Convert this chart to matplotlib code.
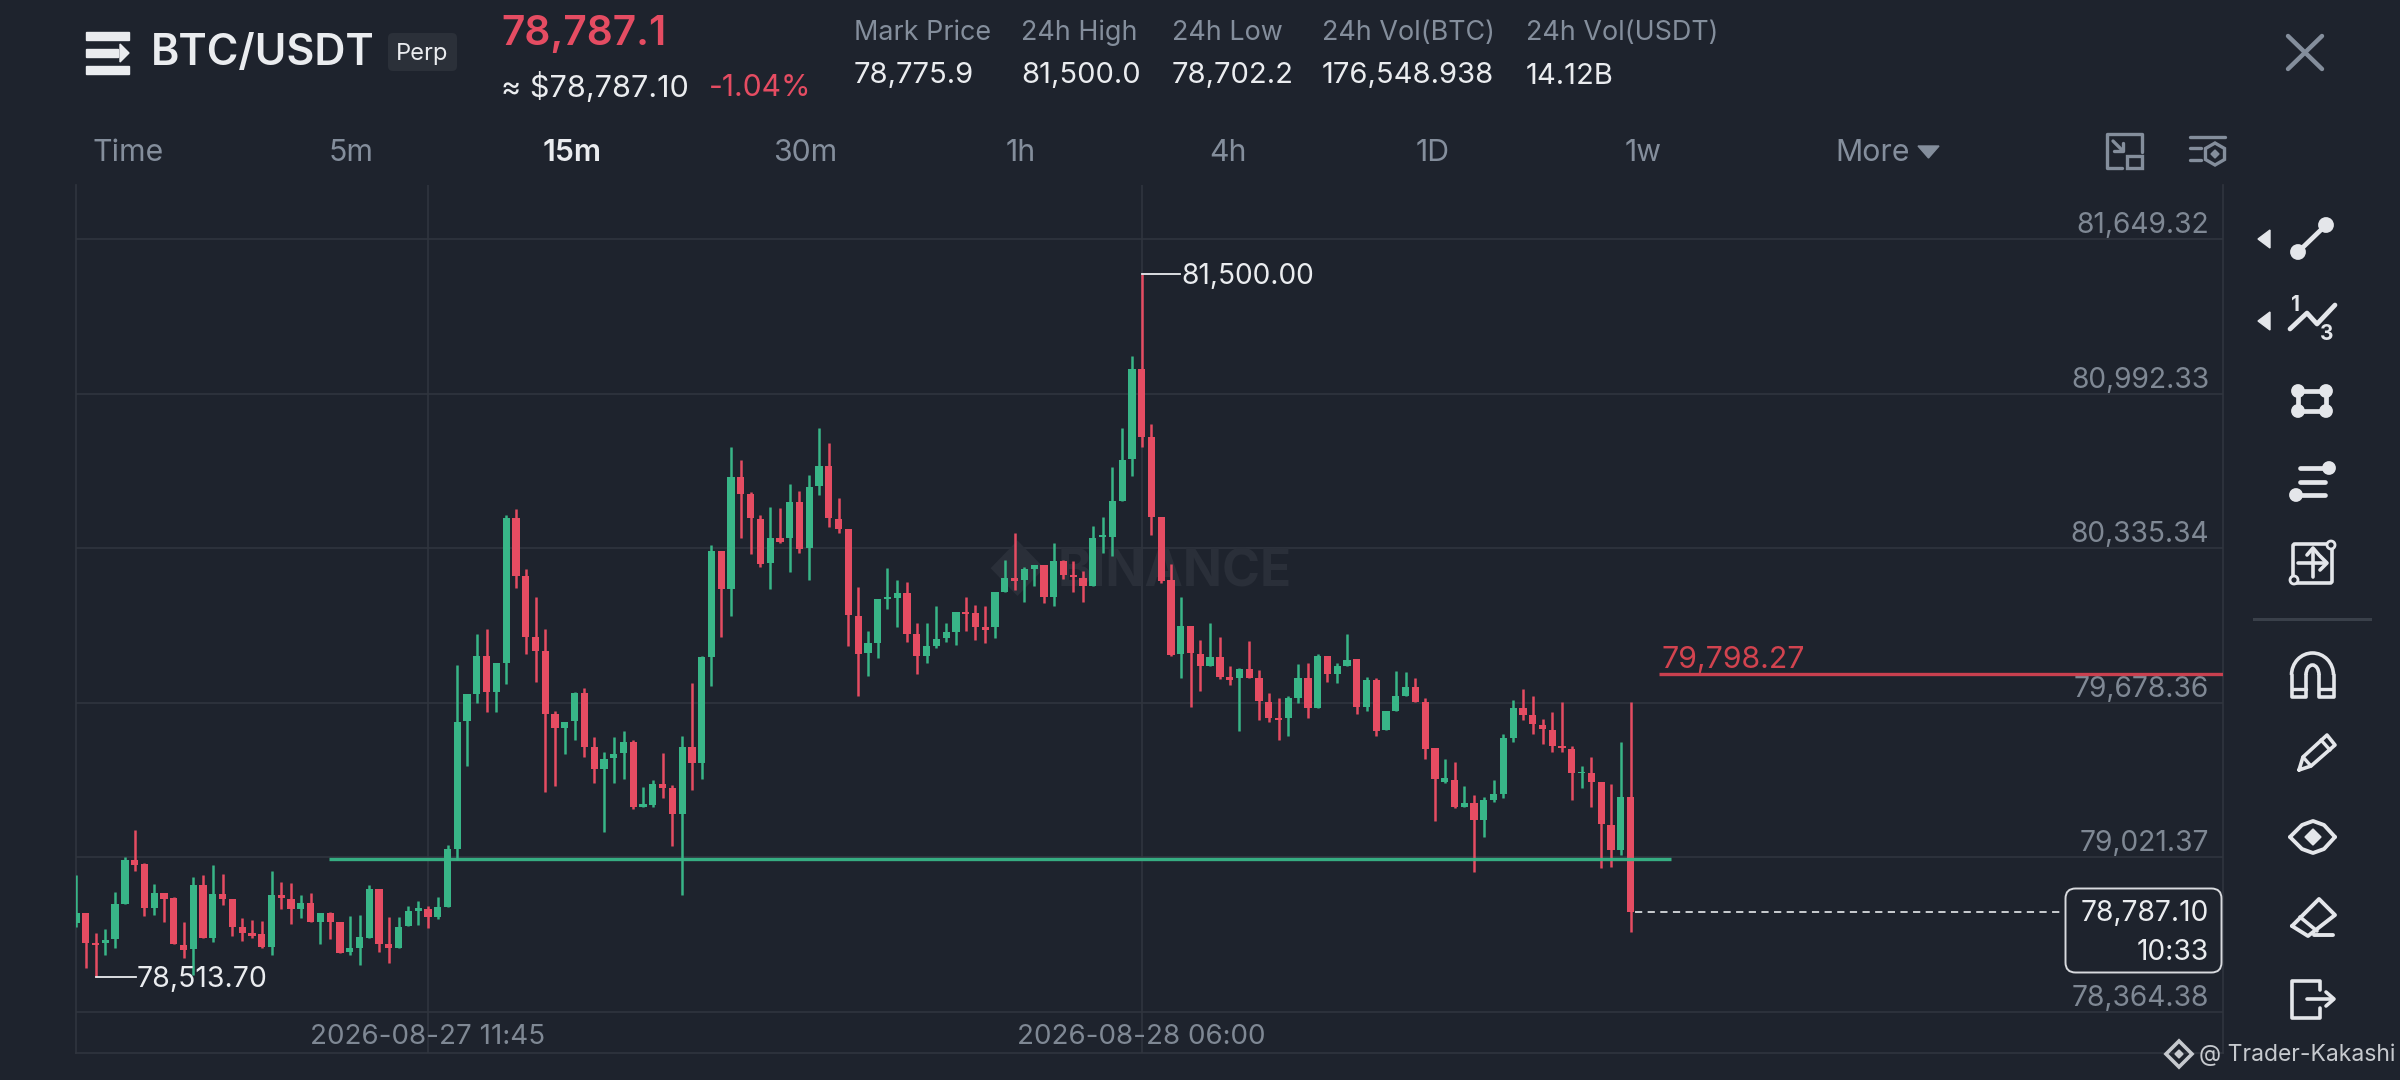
import matplotlib
matplotlib.use('Agg')
import matplotlib.pyplot as plt
import numpy as np
from matplotlib.patches import Arc, Circle, FancyBboxPatch, Polygon, Rectangle, RegularPolygon

plt.rcParams['font.family'] = ['Inter', 'DejaVu Sans']

# ~~> 15m candles
opens = [78743, 78783, 78658, 78655, 78672, 78823, 79010, 78993, 78804, 78871,
         78847, 78648, 78630, 78902, 78677, 78864, 78842, 78723, 78698, 78695,
         78641, 78861, 78844, 78801, 78825, 78745, 78783, 78747, 78617, 78637,
         78677, 78888, 78651, 78634, 78729, 78794, 78800, 78769, 78811, 79055,
         79601, 79714, 79877, 79722, 79848, 80462, 80218, 79956, 79898, 79630,
         79572, 79601, 79721, 79489, 79396, 79442, 79463, 79513, 79236, 79243,
         79331, 79317, 79205, 79491, 79420, 79871, 80323, 80162, 80636, 80564,
         80459, 80273, 80377, 80377, 80530, 80337, 80599, 80686, 80459, 80415,
         80048, 79888, 79933, 80119, 80122, 80143, 79969, 79878, 79921, 79952,
         79980, 80065, 80058, 79999, 79999, 80150, 80207, 80200, 80245, 80264,
         80129, 80282, 80221, 80207, 80176, 80381, 80384, 80537, 80713, 81096,
         80809, 80467, 80200, 79884, 80005, 79886, 79836, 79871, 79786, 79785,
         79820, 79785, 79683, 79615, 79615, 79700, 79785, 79657, 79877, 79801,
         79835, 79863, 79662, 79775, 79561, 79645, 79708, 79747, 79683, 79484,
         79343, 79350, 79236, 79253, 79180, 79265, 79290, 79530, 79657, 79626,
         79584, 79562, 79494, 79482, 79378, 79381, 79343, 79159, 79052, 79279]
highs = [78946, 78783, 78701, 78715, 78875, 79024, 79137, 78998, 78908, 78871,
         78854, 78745, 78936, 78946, 78988, 78950, 78842, 78764, 78755, 78752,
         78964, 78918, 78913, 78861, 78871, 78786, 78790, 78747, 78772, 78776,
         78902, 78888, 78769, 78769, 78815, 78837, 78815, 78851, 79073, 79839,
         79714, 79969, 79992, 79846, 80476, 80500, 80245, 80129, 79990, 79643,
         79598, 79725, 79739, 79531, 79470, 79531, 79558, 79520, 79321, 79350,
         79463, 79328, 79538, 79761, 79877, 80349, 80325, 80767, 80710, 80575,
         80476, 80512, 80504, 80608, 80580, 80646, 80845, 80784, 80550, 80415,
         80171, 79983, 80119, 80249, 80200, 80193, 80018, 80016, 80089, 80016,
         80065, 80129, 80094, 80091, 80150, 80285, 80398, 80256, 80264, 80264,
         80359, 80285, 80282, 80238, 80429, 80469, 80679, 80845, 81150, 81500,
         80862, 80469, 80267, 80129, 80005, 79945, 80016, 79959, 79836, 79827,
         79942, 79818, 79718, 79697, 79707, 79842, 79846, 79886, 79877, 79846,
         79971, 79863, 79789, 79782, 79645, 79815, 79808, 79782, 79697, 79484,
         79438, 79425, 79326, 79286, 79276, 79350, 79544, 79690, 79735, 79707,
         79609, 79637, 79683, 79496, 79411, 79446, 79343, 79331, 79510, 79683]
lows = [78726, 78552, 78513.7, 78606, 78634, 78823, 78963, 78773, 78776, 78747,
        78651, 78592, 78521, 78677, 78662, 78818, 78688, 78665, 78677, 78634,
        78606, 78800, 78738, 78764, 78745, 78653, 78672, 78613, 78606, 78563,
        78677, 78620, 78573, 78634, 78729, 78733, 78719, 78757, 78811, 79010,
        79409, 79676, 79640, 79640, 79758, 80164, 79884, 79768, 79300, 79324,
        79460, 79520, 79449, 79336, 79130, 79338, 79352, 79225, 79233, 79236,
        79272, 79069, 78861, 79307, 79352, 79751, 79959, 80047, 80380, 80309,
        80256, 80162, 80356, 80232, 80316, 80200, 80561, 80424, 80398, 79919,
        79707, 79792, 79867, 80075, 79999, 79938, 79799, 79846, 79912, 79938,
        79924, 79984, 79945, 79933, 79952, 80150, 80157, 80108, 80174, 80103,
        80089, 80204, 80150, 80108, 80176, 80313, 80303, 80537, 80642, 80767,
        80389, 80189, 79877, 79785, 79659, 79730, 79836, 79778, 79754, 79558,
        79785, 79605, 79598, 79520, 79538, 79676, 79612, 79657, 79768, 79764,
        79835, 79631, 79643, 79538, 79561, 79645, 79708, 79683, 79439, 79177,
        79336, 79229, 79236, 78960, 79109, 79255, 79275, 79510, 79605, 79544,
        79503, 79467, 79470, 79265, 79314, 79236, 78974, 78981, 79031, 78702]
closes = [78783, 78658, 78647, 78670, 78821, 79010, 78988, 78804, 78871, 78842,
          78651, 78627, 78902, 78677, 78864, 78844, 78726, 78701, 78688, 78638,
          78861, 78847, 78801, 78828, 78745, 78783, 78747, 78616, 78637, 78681,
          78888, 78653, 78634, 78726, 78794, 78804, 78769, 78808, 79055, 79598,
          79714, 79877, 79722, 79846, 80462, 80218, 79959, 79899, 79630, 79572,
          79598, 79721, 79491, 79396, 79438, 79459, 79513, 79233, 79248, 79333,
          79317, 79205, 79491, 79420, 79871, 80325, 80160, 80636, 80564, 80462,
          80268, 80377, 80363, 80530, 80332, 80597, 80686, 80462, 80415, 80051,
          79885, 79931, 80119, 80129, 80143, 79970, 79878, 79921, 79949, 79977,
          80065, 80055, 80001, 79987, 80150, 80207, 80197, 80247, 80264, 80129,
          80279, 80221, 80211, 80176, 80377, 80391, 80536, 80710, 81096, 80809,
          80469, 80197, 79881, 80005, 79888, 79836, 79871, 79786, 79775, 79820,
          79785, 79686, 79615, 79605, 79700, 79785, 79655, 79877, 79801, 79835,
          79860, 79662, 79775, 79558, 79645, 79708, 79747, 79683, 79482, 79353,
          79360, 79234, 79251, 79180, 79265, 79290, 79530, 79657, 79626, 79586,
          79565, 79496, 79484, 79378, 79385, 79343, 79161, 79052, 79279, 78787.1]

price_ticks = [81649.32, 80992.33, 80335.34, 79678.36, 79021.37, 78364.38]
date_ticks = [36, 109]
date_labels = ['2026-08-27 11:45', '2026-08-28 06:00']
support_level = 79013
resistance_level = 79798.27
last_price = 78787.10
high_price = 81500.00
low_price = 78513.70
high_index = 109
low_index = 2

stat_labels = ['Mark Price', '24h High', '24h Low', '24h Vol(BTC)', '24h Vol(USDT)']
stat_values = ['78,775.9', '81,500.0', '78,702.2', '176,548.938', '14.12B']
intervals = ['Time', '5m', '15m', '30m', '1h', '4h', '1D', '1w', 'More']

BG = '#1e232d'
GRID = '#30353e'
GREEN = '#38b587'
RED = '#e54c62'
WHITE = '#eaecef'
GREY = '#848e9c'
TICK_GREY = '#7f8894'
ICON = '#e4e6ea'
MARK = '#2a2f39'

fig = plt.figure(figsize=(24, 10.8), dpi=100, facecolor=BG)
ax = fig.add_axes([76/2400, 1-1053/1080, 2147/2400, 868/1080], facecolor=BG)

# ~~> candles
ind = np.arange(len(opens))
o = np.array(opens)
c = np.array(closes)
colors = np.where(c >= o, GREEN, RED)

ax.vlines(ind, lows, highs, colors=colors, linewidth=1.8, zorder=3)
ax.bar(ind, np.abs(c-o), bottom=np.minimum(c, o), width=0.74, color=colors,
       zorder=4)

ax.set_xlim(0, 219.6)
ax.set_ylim(78189, 81879)
ax.set_yticks(price_ticks)
ax.set_xticks(date_ticks)
ax.set_xticklabels(date_labels)
ax.set_yticklabels([])
ax.tick_params(axis='y', length=0)
ax.tick_params(axis='x', length=0, pad=-21, labelsize=20, labelcolor=TICK_GREY)
ax.grid(True, color=GRID, linewidth=1.2, zorder=0)
ax.set_axisbelow(True)
ax.spines['top'].set_visible(False)
for side in ['left', 'right', 'bottom']:
    ax.spines[side].set_color(GRID)
    ax.spines[side].set_linewidth(1.2)

for value in price_ticks:
    ax.annotate('{:,.2f}'.format(value), (0.9935, value),
                xycoords=ax.get_yaxis_transform(), xytext=(0, 4.3),
                textcoords='offset points', ha='right', va='baseline',
                color=TICK_GREY, fontsize=20.3, zorder=5)

# watermark sits behind the candles
ax.annotate('BINANCE', (0.5118, 0.5525), xycoords='axes fraction', color=MARK,
            fontsize=37, fontweight='bold', ha='center', va='center', zorder=1)
ax.add_patch(Polygon([(0.4385, 0.5905), (0.4510, 0.5585), (0.4385, 0.5265), (0.4260, 0.5585)],
                     transform=ax.transAxes, facecolor=MARK, edgecolor='none', zorder=1))

# ~~> levels and callouts
ax.plot([25.9, 163.1], [support_level]*2, color=GREEN, linewidth=2.4, zorder=5,
        alpha=0.95, solid_capstyle='butt')
ax.plot([161.9, 219.6], [resistance_level]*2, color='#c9404f', linewidth=2.4,
        zorder=5, solid_capstyle='butt')
ax.annotate('{:,.2f}'.format(resistance_level), (162.2, resistance_level),
            xytext=(0, 5), textcoords='offset points', color='#d2434f',
            fontsize=21.8, ha='left', va='baseline', zorder=6)
ax.plot([159.5, 203.3], [last_price]*2, color='#d8dade', linewidth=1.3,
        dashes=(4, 3), zorder=5)

ax.plot([high_index, high_index+3.9], [high_price]*2, color=WHITE, linewidth=1.3, zorder=6)
ax.annotate('{:,.2f}'.format(high_price), (high_index+4.1, high_price),
            xytext=(0, -2), textcoords='offset points', color=WHITE,
            fontsize=20.3, ha='left', va='center', zorder=6)
ax.plot([low_index, low_index+4.1], [low_price]*2, color=WHITE, linewidth=1.3, zorder=6)
ax.annotate('{:,.2f}'.format(low_price), (low_index+4.2, low_price),
            xytext=(0, -2), textcoords='offset points', color=WHITE,
            fontsize=20.5, ha='left', va='center', zorder=6)

# ~~> everything around the chart, in pixels of the screenshot
ui = fig.add_axes([0, 0, 1, 1], facecolor='none')
ui.set_xlim(0, 2400)
ui.set_ylim(1080, 0)
ui.axis('off')


def icon_line(xs, ys, width=3.4, color=ICON):
    ui.plot(xs, ys, color=color, linewidth=width, solid_capstyle='round',
            solid_joinstyle='round')


def dot(x, y, r=6.5, face=ICON, edge=ICON):
    ui.add_patch(Circle((x, y), r, facecolor=face, edgecolor=edge, linewidth=2, zorder=5))


# header
ui.add_patch(Rectangle((86, 32), 43, 7.5, color=WHITE))
ui.add_patch(Rectangle((86, 49), 32, 8, color=WHITE))
ui.add_patch(Polygon([(120, 44), (129, 53), (120, 62)], color=WHITE))
ui.add_patch(Rectangle((86, 66), 43, 7.5, color=WHITE))
ui.text(151, 54, 'BTC/USDT', color=WHITE, fontsize=31, fontweight='semibold', va='center')
ui.add_patch(FancyBboxPatch((392, 37), 61, 30, boxstyle='round,pad=4,rounding_size=5',
                            facecolor='#2b3039', edgecolor='none'))
ui.text(422.5, 54, 'Perp', color=WHITE, fontsize=17, ha='center', va='center')
ui.text(501, 34, '78,787.1', color=RED, fontsize=29.3, fontweight='semibold', va='center')
ui.text(501, 88, '≈ $78,787.10', color=WHITE, fontsize=22, va='center')
ui.text(709, 88, '-1.04%', color=RED, fontsize=21.6, va='center')

stat_x = [854, 1021, 1172, 1322, 1526]
for x, label, value in zip(stat_x, stat_labels, stat_values):
    ui.text(x, 33, label, color=GREY, fontsize=19.4, va='center')
    ui.text(x, 76, value, color=WHITE, fontsize=21, va='center')

interval_x = [93, 329, 543, 773, 1006, 1209, 1416, 1625, 1835]
for x, label in zip(interval_x, intervals):
    active = label == '15m'
    ui.text(x, 153, label, color=WHITE if active else GREY, fontsize=21.8,
            fontweight='semibold' if active else 'normal', va='center')
ui.add_patch(Polygon([(1918, 146), (1939, 146), (1928.5, 158)], color=GREY))

# small layout icons of the interval row
icon_line([2122, 2107, 2107, 2142, 2142], [168, 168, 134, 134, 152], 2.4, GREY)
ui.add_patch(Rectangle((2127, 156), 15, 12, fill=False, edgecolor=GREY, linewidth=2.4))
icon_line([2113, 2123], [141, 151], 2.4, GREY)
icon_line([2123, 2123, 2114], [143, 151, 151], 2.4, GREY)
icon_line([2190, 2225], [137, 137], 2.4, GREY)
icon_line([2190, 2201], [148, 148], 2.4, GREY)
icon_line([2190, 2201], [160, 160], 2.4, GREY)
ui.add_patch(RegularPolygon((2215, 154), 6, radius=11, fill=False, edgecolor=GREY, linewidth=2.4))
ui.add_patch(Polygon([(2215, 150), (2219, 154), (2215, 158), (2211, 154)], color=GREY))

# close button
icon_line([2288, 2322], [36, 69], 3.2, GREY)
icon_line([2322, 2288], [36, 69], 3.2, GREY)

# drawing toolbar
ui.add_patch(Polygon([(2270, 230), (2270, 248), (2258, 239)], color=ICON))
icon_line([2298, 2326], [252, 225])
dot(2298, 252)
dot(2326, 225)

ui.add_patch(Polygon([(2270, 312), (2270, 330), (2258, 321)], color=ICON))
icon_line([2290, 2307, 2317, 2335], [329, 313, 324, 305])
ui.text(2296, 305, '1', color=ICON, fontsize=15, fontweight='bold', ha='center', va='center')
ui.text(2327, 334, '3', color=ICON, fontsize=15, fontweight='bold', ha='center', va='center')

icon_line([2298, 2326, 2326, 2298, 2298], [391, 391, 411, 411, 391])
for x, y in [(2298, 391), (2326, 391), (2298, 411), (2326, 411)]:
    dot(x, y, 5.5)

icon_line([2300, 2323], [468, 468])
icon_line([2300, 2325], [482, 482])
icon_line([2302, 2325], [495, 495])
dot(2329, 468, 5.5)
dot(2296, 495, 5.5)

ui.add_patch(FancyBboxPatch((2293, 544), 39, 39, boxstyle='round,pad=0,rounding_size=2',
                            fill=False, edgecolor=ICON, linewidth=2.6))
icon_line([2298, 2326], [563, 563], 2.6)
icon_line([2313, 2313], [550, 577], 2.6)
icon_line([2320, 2327, 2320], [556, 563, 570], 2.6)
icon_line([2307, 2313, 2319], [555, 548, 555], 2.6)
dot(2331, 545, 4, BG)
dot(2294, 580, 4, BG)

ui.plot([2254, 2370], [619, 619], color='#3a404a', linewidth=2.2)

# magnet
ui.add_patch(Arc((2312.5, 675), 42, 44, theta1=180, theta2=360, edgecolor=ICON, linewidth=2.6))
ui.add_patch(Arc((2312.5, 675), 13, 20, theta1=180, theta2=360, edgecolor=ICON, linewidth=2.6))
icon_line([2291.5, 2291.5, 2306, 2306], [675, 697, 697, 675], 2.6)
icon_line([2319, 2319, 2333.5, 2333.5], [675, 697, 697, 675], 2.6)
icon_line([2292, 2306], [689, 689], 2.4)
icon_line([2319, 2333], [689, 689], 2.4)

# pencil
icon_line([2299, 2303, 2327, 2335, 2311, 2299],
          [770, 757, 735, 745, 766, 770], 2.6)
icon_line([2321, 2330], [740, 750], 2.4)
icon_line([2303, 2311], [757, 766], 2.4)

# eye
eye_x = [2290, 2302, 2313, 2324, 2335]
icon_line(eye_x, [837, 825, 821, 825, 837], 2.8)
icon_line(eye_x, [837, 849, 853, 849, 837], 2.8)
ui.add_patch(Polygon([(2313, 829), (2321, 837), (2313, 845), (2305, 837)], color=ICON))

# eraser
icon_line([2292, 2319, 2335, 2308, 2292], [926, 899, 915, 936, 926], 2.8)
icon_line([2300, 2317], [917, 931], 2.6)
icon_line([2314, 2333], [935, 935], 2.8)

# exit
icon_line([2320, 2320, 2292, 2292, 2320, 2320], [990, 981, 981, 1018, 1018, 1008], 2.6)
icon_line([2307, 2333], [999, 999], 2.6)
icon_line([2326, 2334, 2326], [992, 999, 1006], 2.6)

# last price box
ui.add_patch(FancyBboxPatch((2072, 895), 143, 71, boxstyle='round,pad=6.5,rounding_size=10',
                            facecolor=BG, edgecolor='#d8dade', linewidth=1.4, zorder=6))
ui.text(2209, 914, '{:,.2f}'.format(last_price), color=WHITE, fontsize=20.3, ha='right', va='center', zorder=7)
ui.text(2209, 952, '10:33', color=WHITE, fontsize=20.3, ha='right', va='center', zorder=7)

# signature
ui.add_patch(Polygon([(2179, 1041), (2192, 1054), (2179, 1067), (2166, 1054)],
                     facecolor='none', edgecolor='#c6c9ce', linewidth=2.6))
ui.add_patch(Polygon([(2179, 1050), (2183, 1054), (2179, 1058), (2175, 1054)], color='#c6c9ce'))
ui.text(2199, 1055, '@ Trader-Kakashi', color='#c6c9ce', fontsize=16.5, va='center')

fig.savefig('out.png', dpi=100, facecolor=BG)
